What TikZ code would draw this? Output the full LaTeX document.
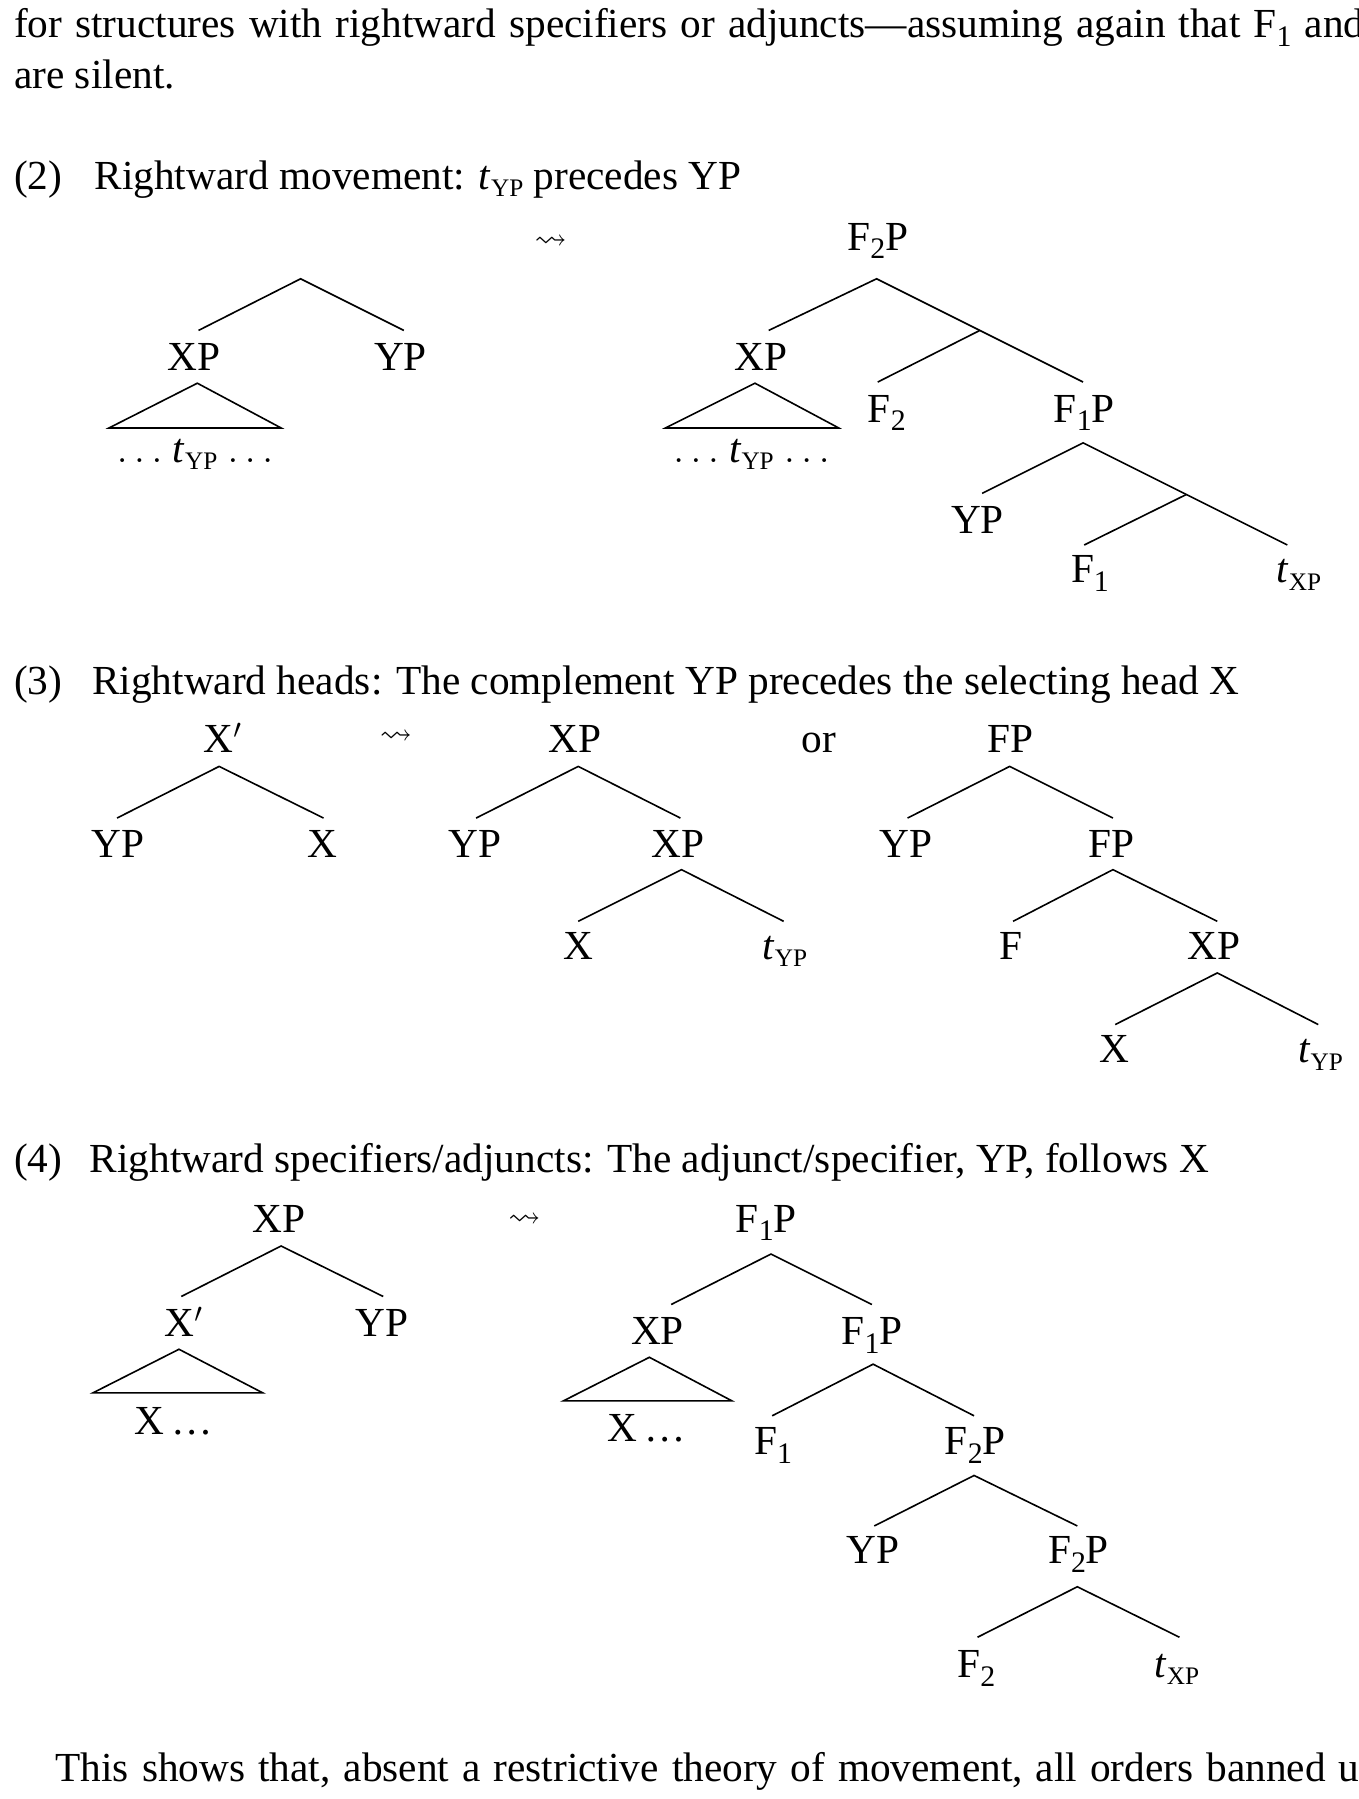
\documentclass[tikz,border=0pt]{standalone}
\usepackage{amssymb}
\usepackage{fontspec}
\setmainfont{Liberation Serif}
\newcommand\sbs[1]{\raisebox{-3.3pt}{\fontsize{11}{11}\selectfont #1}}
\newcommand\fsb[1]{\raisebox{-3.8pt}{\fontsize{13}{13}\selectfont #1}}
\newcommand\trc[1]{\textit{t}\sbs{#1}}
\newcommand\lto{{\fontsize{14}{14}\selectfont$\leadsto$}}
\tikzset{
  lab/.style={inner sep=0pt, anchor=base, font=\fontsize{18}{21.6}\selectfont},
  labw/.style={lab, anchor=base west},
  wide/.style={labw, execute at begin node={\spaceskip=5.7pt plus 1pt\relax}},
  br/.style={line width=0.7pt, line cap=butt},
}
\begin{document}
\begin{tikzpicture}[x=0.5pt, y=-0.5pt]
\fill[white] (0,0) rectangle (1184,1568);
\useasboundingbox (0,0) rectangle (1184,1568);

% running text
\node[wide] (l1) at (12,33) {for structures with rightward specifiers or adjuncts---assuming again that F\fsb{1} and};
\node[labw] (l2) at (12,77) {are silent.};
\node[labw] (n2) at (12,165) {(2)};
\node[labw] (h2) at (82,165) {Rightward movement: \trc{YP} precedes YP};
\node[labw] (n3) at (12,605) {(3)};
\node[labw] (h3) at (80,605) {Rightward heads: The complement YP precedes the selecting head X};
\node[labw] (n4) at (12,1022) {(4)};
\node[labw] (h4) at (78,1022) {Rightward specifiers/adjuncts: The adjunct/specifier, YP, follows X};
\node[wide] (last) at (48,1553) {This shows that, absent a restrictive theory of movement, all orders banned un};

% ---------- (2) left tree
\coordinate (a-r) at (262,243);
\coordinate (a-xp) at (173,288);
\coordinate (a-yp) at (352,288);
\node[lab] (a-XP) at (169,323) {XP};
\node[lab] (a-YP) at (349,323) {YP};
\draw[br] (a-xp) -- (a-r) -- (a-yp);
\coordinate (a-t1) at (172,334);
\coordinate (a-t2) at (95,373);
\coordinate (a-t3) at (245,373);
\draw[br] (a-t1) -- (a-t2) -- (a-t3) -- cycle;
\node[lab] (a-tr) at (170,403) {$\ldots$\ \trc{YP}\ $\ldots$};
\node[inner sep=0] (arr2) at (480,211) {\lto};

% ---------- (2) right tree
\node[lab] (b-F2P) at (765,218) {F\fsb{2}P};
\coordinate (b-r) at (764,243);
\coordinate (b-xp) at (670,288);
\coordinate (b-m) at (854,288);
\coordinate (b-f2) at (765,333);
\coordinate (b-f1p) at (944,333);
\draw[br] (b-xp) -- (b-r) -- (b-f1p);
\draw[br] (b-m) -- (b-f2);
\node[lab] (b-XP) at (663,323) {XP};
\coordinate (b-t1) at (658,334);
\coordinate (b-t2) at (580,373);
\coordinate (b-t3) at (731,373);
\draw[br] (b-t1) -- (b-t2) -- (b-t3) -- cycle;
\node[lab] (b-tr) at (655,403) {$\ldots$\ \trc{YP}\ $\ldots$};
\node[lab] (b-F2) at (773,368) {F\fsb{2}};
\node[lab] (b-F1P) at (945,368) {F\fsb{1}P};
\coordinate (b-r2) at (944,386);
\coordinate (b-yp) at (856,430);
\coordinate (b-m2) at (1034,431);
\coordinate (b-f1) at (945,475);
\coordinate (b-txp) at (1122,475);
\draw[br] (b-yp) -- (b-r2) -- (b-txp);
\draw[br] (b-m2) -- (b-f1);
\node[lab] (b-YP) at (852,465) {YP};
\node[lab] (b-F1) at (950,508) {F\fsb{1}};
\node[lab] (b-tXP) at (1132,508) {\trc{XP}};

% ---------- (3)
\node[labw] (c-X') at (177,656) {X$'$};
\node[inner sep=0] (arr3) at (345,643) {\lto};
\node[lab] (d-XP) at (501,656) {XP};
\node[lab] (or) at (714,656) {or};
\node[lab] (e-FP) at (881,656) {FP};

\coordinate (c-r) at (191,668);
\coordinate (c-yp) at (102,713);
\coordinate (c-x) at (282,713);
\draw[br] (c-yp) -- (c-r) -- (c-x);
\node[lab] (c-YP) at (103,747) {YP};
\node[lab] (c-X) at (281,747) {X};

\coordinate (d-r) at (504,668);
\coordinate (d-yp) at (415,713);
\coordinate (d-xp) at (593,713);
\draw[br] (d-yp) -- (d-r) -- (d-xp);
\node[lab] (d-YP) at (414,747) {YP};
\node[lab] (d-XP2) at (591,747) {XP};
\coordinate (d-r2) at (594,758);
\coordinate (d-x) at (504,803);
\coordinate (d-t) at (683,803);
\draw[br] (d-x) -- (d-r2) -- (d-t);
\node[lab] (d-X) at (504,836) {X};
\node[lab] (d-tYP) at (684,836) {\trc{YP}};

\coordinate (e-r) at (880,668);
\coordinate (e-yp) at (791,713);
\coordinate (e-fp) at (970,713);
\draw[br] (e-yp) -- (e-r) -- (e-fp);
\node[lab] (e-YP) at (790,747) {YP};
\node[lab] (e-FP2) at (969,747) {FP};
\coordinate (e-r2) at (970,758);
\coordinate (e-f) at (883,803);
\coordinate (e-xp) at (1061,803);
\draw[br] (e-f) -- (e-r2) -- (e-xp);
\node[lab] (e-F) at (881,836) {F};
\node[lab] (e-XP) at (1058,836) {XP};
\coordinate (e-r3) at (1061,848);
\coordinate (e-x) at (972,893);
\coordinate (e-t) at (1149,893);
\draw[br] (e-x) -- (e-r3) -- (e-t);
\node[lab] (e-X) at (971,926) {X};
\node[lab] (e-tYP) at (1151,926) {\trc{YP}};

% ---------- (4)
\node[lab] (f-XP) at (243,1074) {XP};
\node[inner sep=0] (arr4) at (457,1064) {\lto};
\node[lab] (g-F1P) at (668,1074) {F\fsb{1}P};

\coordinate (f-r) at (245,1086);
\coordinate (f-x) at (158,1130);
\coordinate (f-yp) at (334,1130);
\draw[br] (f-x) -- (f-r) -- (f-yp);
\node[labw] (f-X') at (143,1165) {X$'$};
\node[lab] (f-YP) at (333,1165) {YP};
\coordinate (f-t1) at (156,1176);
\coordinate (f-t2) at (81,1214);
\coordinate (f-t3) at (229,1214);
\draw[br] (f-t1) -- (f-t2) -- (f-t3) -- cycle;
\node[labw] (f-Xd) at (117,1250) {X\,\ldots};

\coordinate (g-r) at (672,1093);
\coordinate (g-xp) at (585,1137);
\coordinate (g-f1p) at (760,1137);
\draw[br] (g-xp) -- (g-r) -- (g-f1p);
\node[lab] (g-XP) at (573,1172) {XP};
\node[lab] (g-F1P2) at (760,1172) {F\fsb{1}P};
\coordinate (g-t1) at (566,1183);
\coordinate (g-t2) at (491,1221);
\coordinate (g-t3) at (638,1221);
\draw[br] (g-t1) -- (g-t2) -- (g-t3) -- cycle;
\node[labw] (g-Xd) at (529,1256) {X\,\ldots};
\coordinate (g-r2) at (761,1189);
\coordinate (g-f1) at (673,1234);
\coordinate (g-f2p) at (849,1234);
\draw[br] (g-f1) -- (g-r2) -- (g-f2p);
\node[labw] (g-F1) at (657,1268) {F\fsb{1}};
\node[lab] (g-F2P) at (850,1268) {F\fsb{2}P};
\coordinate (g-r3) at (849,1286);
\coordinate (g-yp) at (762,1330);
\coordinate (g-f2p2) at (939,1330);
\draw[br] (g-yp) -- (g-r3) -- (g-f2p2);
\node[lab] (g-YP) at (761,1363) {YP};
\node[lab] (g-F2P2) at (940,1363) {F\fsb{2}P};
\coordinate (g-r4) at (939,1383);
\coordinate (g-f2) at (852,1427);
\coordinate (g-t) at (1028,1427);
\draw[br] (g-f2) -- (g-r4) -- (g-t);
\node[labw] (g-F2) at (834,1462) {F\fsb{2}};
\node[labw] (g-tXP) at (1006,1462) {\trc{XP}};
\end{tikzpicture}
\end{document}
